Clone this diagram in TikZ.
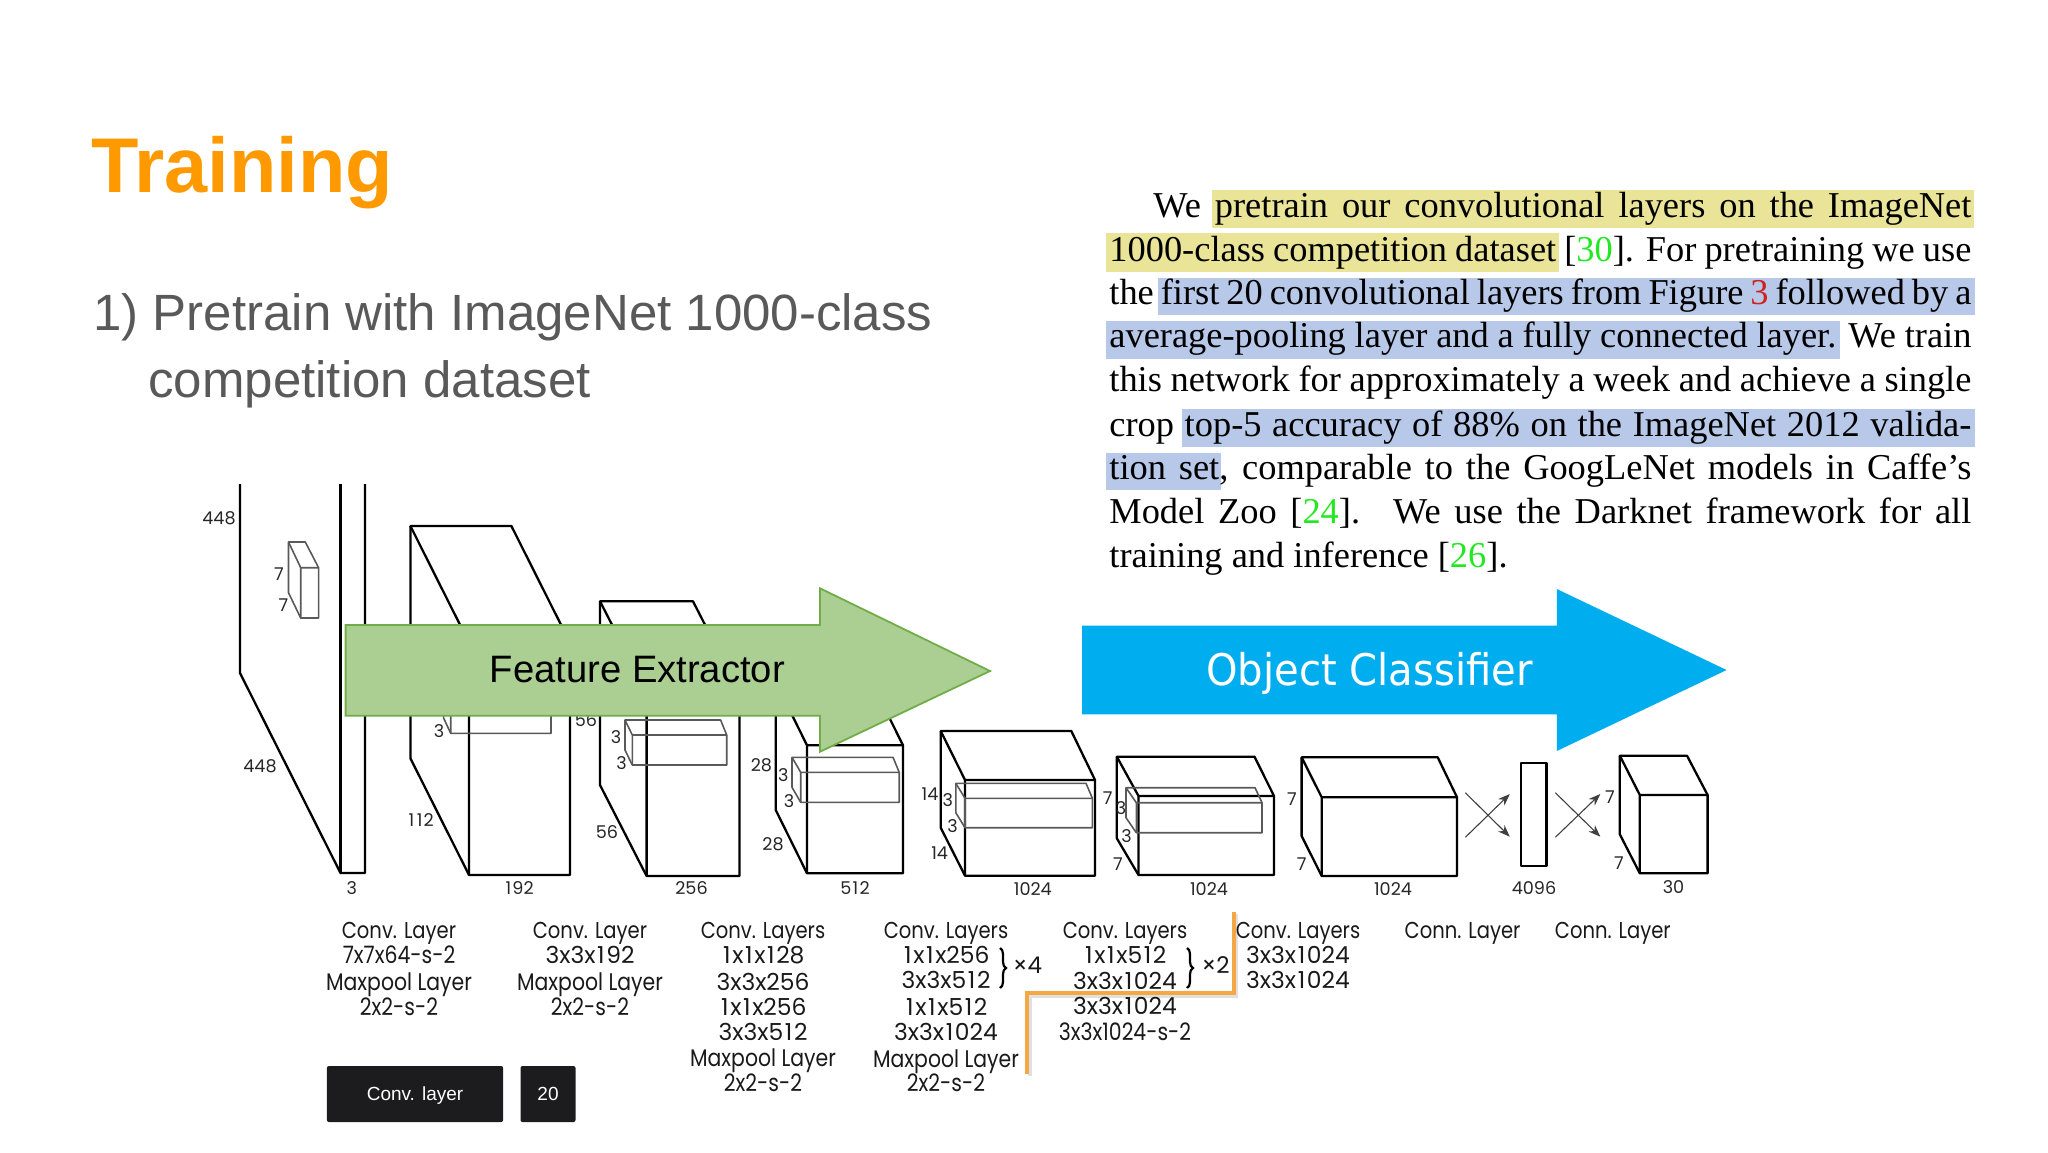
\documentclass[tikz,border=0pt]{standalone}
\usepackage{fontspec}
\setmainfont{Liberation Sans}
\newfontfamily\labfont[FakeStretch=0.85]{Poppins}
\newfontfamily\numfont{Poppins}
\newfontfamily\parafont{Liberation Serif}
\newfontfamily\objfont[FakeStretch=0.92]{DejaVu Sans}
\usetikzlibrary{arrows.meta,decorations.pathreplacing}
\definecolor{hlyellow}{HTML}{E9E497}
\definecolor{hlblue}{HTML}{B7C8E8}
\definecolor{refgreen}{HTML}{22E822}
\definecolor{refred}{HTML}{D02020}
\definecolor{titleorange}{HTML}{FF9900}
\definecolor{bodygray}{HTML}{595959}
\definecolor{darkbox}{HTML}{1C1C1E}
\definecolor{stepline}{HTML}{F4A742}
\definecolor{greenfill}{HTML}{ABCF92}
\definecolor{greenedge}{HTML}{70AD47}
\definecolor{bluefill}{HTML}{00AEEF}
\newcommand\fsz[1]{\fontsize{#1}{#1}\selectfont}
\newcommand\pline[2]{\hbox to #1{\parafont\fsz{18.2}\spaceskip=.25em plus 1fil minus 1fil\relax #2}}
\newcommand\rfg[1]{\textcolor{refgreen}{#1}}
\newcommand\one{\kern.07em 1\kern.07em}
\newcommand\cuboid[9][]{%
  \draw[boxline,#1] (#2,#6)--(#3,#6)--(#5,#7)--(#5,#8)--(#4,#8)--(#2,#9)--cycle;
  \draw[boxline,#1] (#2,#6)--(#4,#7)--(#5,#7) (#4,#7)--(#4,#8);
}
\tikzset{
  x=0.5pt,y=-0.5pt,
  boxline/.style={line width=1.15pt,black,line join=round},
  innerline/.style={line width=0.8pt,draw=black!65,line join=round},
  xarrow/.style={line width=0.55pt,draw=black!75,-{Stealth[length=6pt,width=4.5pt]}},
  sm/.style={font=\numfont\fsz{8.8},inner sep=0pt,text=black!85},
  lab/.style={font=\labfont\fsz{12},anchor=base,inner sep=0pt,text=black!90},
  head/.style={font=\labfont\fsz{11.5},anchor=base,inner sep=0pt,text=black!90},
  num/.style={font=\numfont\fsz{11.7},anchor=base,inner sep=0pt,text=black!90},
  paraline/.style={anchor=base west,inner sep=0pt},
  bracey/.style={decorate,decoration={brace,amplitude=3pt},line width=1.1pt},
}
\begin{document}
\begin{tikzpicture}
\useasboundingbox (0,0) rectangle (2048,1152);

% title and bullets
\node[anchor=base west,inner sep=0pt,font=\bfseries\fsz{38.8},text=titleorange] (title) at (91,192) {Training};
\node[anchor=base west,inner sep=0pt,font=\fsz{25.5},text=bodygray] (b1) at (93,330) {1) Pretrain with ImageNet 1000-class};
\node[anchor=base west,inner sep=0pt,font=\fsz{25.5},text=bodygray] (b2) at (148,397) {competition dataset};

% highlights
\fill[hlyellow] (1211.7,190) rectangle (1974,227.7);
\fill[hlyellow] (1105.5,233.3) rectangle (1559,271.7);
\fill[hlblue] (1157.7,277.7) rectangle (1975,315);
\fill[hlblue] (1105.5,321) rectangle (1839.7,359);
\fill[hlblue] (1182,408.7) rectangle (1975,446.7);
\fill[hlblue] (1105.5,452.7) rectangle (1221,490);

% paragraph
\node[paraline] (l1) at (1153,217.7) {\pline{409pt}{We pretrain our convolutional layers on the ImageNet}};
\node[paraline] (l2) at (1109,261) {\pline{431pt}{1000-class competition dataset [\rfg{30}]. For pretraining we use}};
\node[paraline] (l3) at (1109,304.3) {\pline{431pt}{the first 20 convolutional layers from Figure \textcolor{refred}{3} followed by a}};
\node[paraline] (l4) at (1109,347.7) {\pline{431pt}{average-pooling layer and a fully connected layer. We train}};
\node[paraline] (l5) at (1109,391.7) {\pline{431pt}{this network for approximately a week and achieve a single}};
\node[paraline] (l6) at (1109,436) {\pline{431pt}{crop top-5 accuracy of 88\% on the ImageNet 2012 valida-}};
\node[paraline] (l7) at (1109,479) {\pline{431pt}{tion set, comparable to the GoogLeNet models in Caffe’s}};
\node[paraline] (l8) at (1109,523.7) {\pline{431pt}{Model Zoo [\rfg{24}].\kern.2em{} We use the Darknet framework for all}};
\node[paraline] (l9) at (1109,567) {\parafont\fsz{18.2}training and inference [\rfg{26}].};

% layer 1
\draw[boxline] (240,484)--(240,673)--(340.5,873)--(365,873)--(365,484);
\draw[boxline] (340.5,484)--(340.5,873);
\draw[innerline] (288.5,542)--(305.3,542)--(318.6,567.7)--(318.6,618)--(300.7,618)--(288.5,592.7)--cycle;
\draw[innerline] (288.5,542)--(300.7,567.7)--(318.6,567.7) (300.7,567.7)--(300.7,618);
% layer 2
\cuboid{410.4}{511.4}{469}{570}{526}{642.7}{875}{758.3}
\draw[innerline] (443.6,688)--(544,688)--(551,703)--(551,733.3)--(450.7,733.3)--(443.6,718)--cycle;
\draw[innerline] (443.6,688)--(450.7,703)--(551,703) (450.7,703)--(450.7,733.3);
% layer 3
\cuboid{600}{693}{646.6}{739.5}{601.3}{692.3}{876}{785}
\draw[innerline] (625,720)--(720.6,720)--(726.7,735)--(726.7,765)--(632.3,765)--(625,750)--cycle;
\draw[innerline] (625,720)--(632.3,735)--(726.7,735) (632.3,735)--(632.3,765);
% layer 4
\cuboid{775.7}{871.6}{807}{903}{682}{745.3}{873.3}{810}
\draw[innerline] (792,757.3)--(893,757.3)--(899.2,772.3)--(899.2,802.3)--(800.7,802.3)--(792,787.3)--cycle;
\draw[innerline] (792,757.3)--(800.7,772.3)--(899.2,772.3) (800.7,772.3)--(800.7,802.3);
% layer 5
\cuboid{940.7}{1071.3}{965}{1095}{731}{780}{875.7}{827.7}
\draw[innerline] (955.8,783.3)--(1086,783.3)--(1092.4,798.3)--(1092.4,827.7)--(965,827.7)--(955.8,812.7)--cycle;
\draw[innerline] (955.8,783.3)--(965,798.3)--(1092.4,798.3) (965,798.3)--(965,827.7);
% layer 6
\cuboid{1116.8}{1254.5}{1138.5}{1274}{756.7}{796}{875}{838.3}
\draw[innerline] (1126,787.7)--(1255,787.7)--(1262,802.7)--(1262,832.7)--(1136.3,832.7)--(1126,817.7)--cycle;
\draw[innerline] (1126,787.7)--(1136.3,802.7)--(1262,802.7) (1136.3,802.7)--(1136.3,832.7);
% layer 7
\cuboid{1301.6}{1437.7}{1321.7}{1457}{757.3}{797.3}{876}{836}
% crosses and fully connected bar
\coordinate (c1a) at (1465.3,792.7);
\coordinate (c1b) at (1509.8,836.7);
\coordinate (c1c) at (1465.3,837.3);
\coordinate (c1d) at (1509.8,794);
\coordinate (c2a) at (1555.3,792.7);
\coordinate (c2b) at (1600.3,836.7);
\coordinate (c2c) at (1555.3,837.3);
\coordinate (c2d) at (1600.3,794);
\draw[xarrow] (c1a)--(c1b);
\draw[xarrow] (c1c)--(c1d);
\draw[xarrow] (c2a)--(c2b);
\draw[xarrow] (c2c)--(c2d);
\draw[boxline] (1521,763.3) rectangle (1546.6,865.7);
% last
\cuboid{1619.8}{1687}{1639.8}{1707.6}{755.7}{795}{873.3}{834.3}

% dimension labels
\node[sm] (d448a) at (219,518.3) {448};
\node[sm] (d448b) at (260,765.7) {448};
\node[sm] (d7a) at (278.8,574) {7};
\node[sm] (d7b) at (283.4,605) {7};
\node[sm] (d3a) at (351.7,888.3) {3};
\node[sm] (d192) at (519,888.3) {\one 92};
\node[sm] (d256) at (691.5,888.3) {256};
\node[sm] (d512) at (855,888.3) {5\one 2};
\node[sm] (d112) at (420.6,820) {\one\one 2};
\node[sm] (d3b) at (439,731) {3};
\node[sm] (d56a) at (586,720) {56};
\node[sm] (d56b) at (607,831.7) {56};
\node[sm] (d3c) at (616,737.3) {3};
\node[sm] (d3d) at (621.6,762.7) {3};
\node[sm] (d28a) at (761.4,765.3) {28};
\node[sm] (d28b) at (773,844) {28};
\node[sm] (d3e) at (783.4,775.3) {3};
\node[sm] (d3f) at (789,800.7) {3};
\node[sm] (d14a) at (930,794) {14};
\node[sm] (d14b) at (939.6,853.3) {14};
\node[sm] (d3g) at (947.7,800) {3};
\node[sm] (d3h) at (952.6,826) {3};
\node[sm] (d7c) at (1107.6,798.3) {7};
\node[sm] (d7d) at (1118,864.3) {7};
\node[sm] (d3i) at (1121,808.3) {3};
\node[sm] (d3j) at (1126.6,836) {3};
\node[sm] (d7e) at (1292,799.3) {7};
\node[sm] (d7f) at (1301.6,864.3) {7};
\node[sm] (d7g) at (1610,796.7) {7};
\node[sm] (d7h) at (1619,862.7) {7};
\node[sm] (d1024a) at (1032.8,889) {1024};
\node[sm] (d1024b) at (1209,889) {1024};
\node[sm] (d1024c) at (1393,889) {1024};
\node[sm] (d4096) at (1534,888.3) {4096};
\node[sm] (d30) at (1673.5,887.3) {30};

% big arrows
\draw[fill=greenfill,draw=greenedge,line width=0.9pt,line join=miter] (345.6,625)--(820,625)--(820,588.3)--(990,671)--(820,751.7)--(820,715.7)--(345.6,715.7)--cycle;
\node[inner sep=0pt,font=\fsz{19.1},text=black] (fe) at (637.4,670) {Feature Extractor};
\fill[bluefill] (1082,625.6)--(1556.8,625.6)--(1556.8,589)--(1726.6,670)--(1556.8,751)--(1556.8,714.4)--(1082,714.4)--cycle;
\node[inner sep=0pt,anchor=base,font=\objfont\fsz{21.8},text=white] (oc) at (1369.5,685.7) {Object Classifier};

% column labels
\node[head] (c1l1) at (399,938.5) {Conv. Layer};
\node[lab] (c1l2) at (399,963.3) {7x7x64-s-2};
\node[lab] (c1l3) at (399,990) {Maxpool Layer};
\node[lab] (c1l4) at (399,1015) {2x2-s-2};
\node[head] (c2l1) at (590,938.5) {Conv. Layer};
\node[num] (c2l2) at (590,963.3) {3x3x\one 92};
\node[lab] (c2l3) at (590,990) {Maxpool Layer};
\node[lab] (c2l4) at (590,1015) {2x2-s-2};
\node[head] (c3l1) at (763,938.5) {Conv. Layers};
\node[num] (c3l2) at (763,963.3) {\one x\one x\one 28};
\node[num] (c3l3) at (763,990) {3x3x256};
\node[num] (c3l4) at (763,1015) {\one x\one x256};
\node[num] (c3l5) at (763,1040.7) {3x3x5\one 2};
\node[lab] (c3l6) at (763,1066.7) {Maxpool Layer};
\node[lab] (c3l7) at (763,1091.7) {2x2-s-2};
\node[head] (c4l1) at (946,938.5) {Conv. Layers};
\node[num] (c4l2) at (946,963.3) {\one x\one x256};
\node[num] (c4l3) at (946,988) {3x3x5\one 2};
\node[num] (c4l4) at (946,1015) {\one x\one x5\one 2};
\node[num] (c4l5) at (946,1040) {3x3x\one 024};
\node[lab] (c4l6) at (946,1067) {Maxpool Layer};
\node[lab] (c4l7) at (946,1091.7) {2x2-s-2};
\node[head] (c5l1) at (1125,938.5) {Conv. Layers};
\node[num] (c5l2) at (1125,963.3) {\one x\one x5\one 2};
\node[num] (c5l3) at (1125,989.3) {3x3x\one 024};
\node[num] (c5l4) at (1125,1014.3) {3x3x\one 024};
\node[lab] (c5l5) at (1125,1040) {3x3x1024-s-2};
\node[head] (c6l1) at (1298,938.5) {Conv. Layers};
\node[num] (c6l2) at (1298,963.3) {3x3x\one 024};
\node[num] (c6l3) at (1298,988.3) {3x3x\one 024};
\node[head] (c7l1) at (1462.6,938.5) {Conn. Layer};
\node[head] (c8l1) at (1612.8,938.5) {Conn. Layer};
\coordinate (br1a) at (1000,948);
\coordinate (br1b) at (1000,988);
\coordinate (br2a) at (1187,948);
\coordinate (br2b) at (1187,988);
\draw[bracey] (br1a)--(br1b);
\draw[bracey] (br2a)--(br2b);
\node[num,font=\numfont\fsz{11.5}] (x4) at (1027.4,973.5) {×4};
\node[num,font=\numfont\fsz{11.5}] (x2) at (1215.5,973.5) {×2};

% orange step line
\draw[line width=2pt,black,opacity=0.12] (1236,914)--(1236,996)--(1030,996)--(1030,1076);
\draw[line width=2pt,stepline,line join=miter] (1234,912.3)--(1234,993.3)--(1027.4,993.3)--(1027.4,1074);

% dark boxes
\node[fill=darkbox,rounded corners=1pt,minimum width=88.1pt,minimum height=28pt,inner sep=0pt] (conv) at (415,1094) {};
\node[inner sep=0pt,font=\fsz{9.5},text=white] (convt) at (415,1095.5) {Conv. layer};
\node[fill=darkbox,rounded corners=1pt,minimum width=27.5pt,minimum height=28pt,inner sep=0pt,font=\fsz{9.5},text=white] (twenty) at (548,1094) {20};
\end{tikzpicture}
\end{document}
